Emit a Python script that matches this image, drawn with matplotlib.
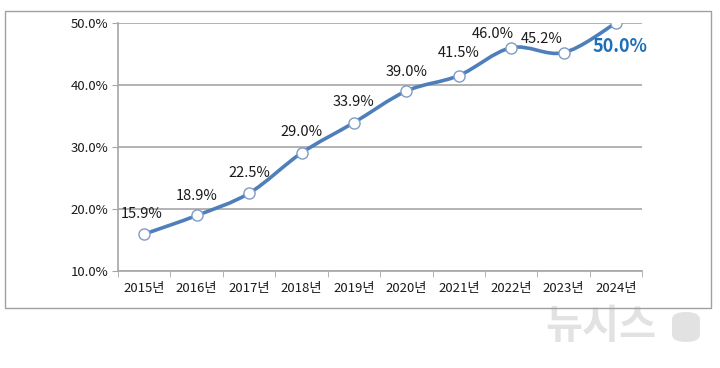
import numpy as np
import matplotlib.pyplot as plt
from matplotlib.path import Path
from matplotlib.patches import PathPatch, Rectangle, FancyBboxPatch

plt.rcParams['font.family'] = ['Noto Sans CJK KR', 'DejaVu Sans']

years = ['2015년', '2016년', '2017년', '2018년', '2019년',
         '2020년', '2021년', '2022년', '2023년', '2024년']
rates = [15.9, 18.9, 22.5, 29.0, 33.9, 39.0, 41.5, 46.0, 45.2, 50.0]
labels = ['15.9%', '18.9%', '22.5%', '29.0%', '33.9%',
          '39.0%', '41.5%', '46.0%', '45.2%', '50.0%']
yticks = [10, 20, 30, 40, 50]

line_color = '#4F7FBA'
grid_color = '#A6A6A6'


def smooth_path(x, y, t=1/6):
    # Excel-like smoothed line: Catmull-Rom segments as cubic Bezier
    pts = np.column_stack([x, y]).astype(float)
    verts = [pts[0]]
    codes = [Path.MOVETO]
    n = len(pts)
    for i in range(n - 1):
        p0 = pts[max(i - 1, 0)]
        p1 = pts[i]
        p2 = pts[i + 1]
        p3 = pts[min(i + 2, n - 1)]
        c1 = p1 + (p2 - p0) * t
        c2 = p2 - (p3 - p1) * t
        verts += [c1, c2, p2]
        codes += [Path.CURVE4] * 3
    return Path(verts, codes)


fig = plt.figure(figsize=(7.2, 3.68), dpi=100)
ax = fig.add_axes([0.164, 0.2647, 0.728, 0.673])

x = np.arange(len(years))
ax.add_patch(PathPatch(smooth_path(x, rates), facecolor='none',
                       edgecolor=line_color, lw=2.6, zorder=3))
ax.plot(x, rates, linestyle='none', marker='o', ms=8,
        mfc='white', mec='#7F9CC4', mew=1.0, zorder=4)

# data labels (offsets in points, label centre relative to marker)
offsets = [(-2, 14.5), (0, 14), (0, 14.5), (0, 15), (0, 14.5),
           (0, 14), (0, 16), (-13, 10), (-16, 10)]
for i in range(len(rates) - 1):
    dx, dy = offsets[i]
    ax.annotate(labels[i], (x[i], rates[i]), xytext=(dx, dy),
                textcoords='offset points', ha='center', va='center',
                fontsize=10.5, color='#1a1a1a', zorder=5)
ax.annotate(labels[-1], (x[-1], rates[-1]), xytext=(3, -17),
            textcoords='offset points', ha='center', va='center',
            fontsize=13, fontweight='bold', color='#1E6FB8', zorder=5)

ax.set_xlim(-0.5, len(years) - 0.5)
ax.set_ylim(10, 50)
ax.set_yticks(yticks)
ax.set_yticklabels([f'{v:.1f}%' for v in yticks])
ax.set_xticks(x)
ax.set_xticklabels(years)
ax.set_xticks(np.arange(-0.5, len(years)), minor=True)
ax.tick_params(axis='x', which='major', length=0, pad=8, labelsize=9.5, colors='#1a1a1a')
ax.tick_params(axis='x', which='minor', length=4, color=grid_color, direction='out')
ax.tick_params(axis='y', length=4, color=grid_color, pad=3, labelsize=9.5, labelcolor='#1a1a1a')
ax.grid(axis='y', color=grid_color, lw=1.2)
ax.set_axisbelow(True)
for s in ['top', 'right']:
    ax.spines[s].set_visible(False)
for s in ['left', 'bottom']:
    ax.spines[s].set_color(grid_color)
    ax.spines[s].set_linewidth(1.2)

# outer frame of the chart
fig.patches.append(Rectangle((5 / 720, 1 - 308 / 368), 706 / 720, 297 / 368,
                             transform=fig.transFigure, fill=False,
                             edgecolor='#A0A0A0', lw=1.0))

# watermark
fig.text(545 / 720, 1 - 327 / 368, '뉴시스', fontsize=29, fontweight='bold',
         color='#E2E2E2', ha='left', va='center', zorder=0)
fig.patches.append(FancyBboxPatch((672 / 720, 1 - 342 / 368), 28 / 720, 30 / 368,
                                  boxstyle='round,pad=0,rounding_size=0.02',
                                  transform=fig.transFigure, facecolor='#E2E2E2',
                                  edgecolor='none', zorder=0))

fig.savefig('out.png', dpi=100)
